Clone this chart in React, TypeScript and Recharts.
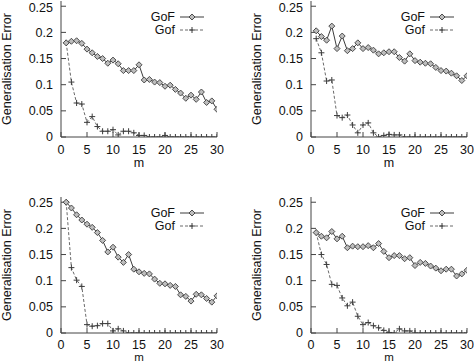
import React from 'react';
import { LineChart, Line, XAxis, YAxis, Legend } from 'recharts';

const mValues = [1, 2, 3, 4, 5, 6, 7, 8, 9, 10, 11, 12, 13, 14, 15, 16, 17, 18, 19, 20, 21, 22, 23, 24, 25, 26, 27, 28, 29, 30];

const xTicks = [0, 5, 10, 15, 20, 25, 30];
const yTicks = [0, 0.05, 0.1, 0.15, 0.2, 0.25];
const seriesNames = ['GoF', 'Gof'];
const xLabel = 'm';
const yLabel = 'Generalisation Error';

// top-left panel
const aGoF = [0.180, 0.183, 0.184, 0.179, 0.168, 0.161, 0.154, 0.150, 0.141, 0.147, 0.140, 0.127, 0.127, 0.127, 0.138, 0.109, 0.110, 0.105, 0.104, 0.097, 0.099, 0.091, 0.084, 0.074, 0.080, 0.072, 0.086, 0.066, 0.069, 0.053];
const aGof = [0.180, 0.105, 0.065, 0.063, 0.028, 0.039, 0.020, 0.011, 0.011, 0.014, 0.004, 0.011, 0.011, 0.008, 0.003, 0.003, 0, 0, 0, 0.003, 0, 0, 0, 0, 0, 0, 0, 0, 0, 0];
// top-right panel
const bGoF = [0.203, 0.192, 0.185, 0.212, 0.169, 0.193, 0.165, 0.169, 0.180, 0.169, 0.171, 0.166, 0.159, 0.161, 0.163, 0.163, 0.152, 0.145, 0.159, 0.146, 0.143, 0.141, 0.140, 0.133, 0.127, 0.126, 0.122, 0.117, 0.108, 0.117];
const bGof = [0.188, 0.161, 0.107, 0.109, 0.041, 0.037, 0.042, 0.023, 0.008, 0.023, 0.027, 0.008, 0, 0.003, 0.005, 0.004, 0.004, 0, 0, 0, 0, 0, 0, 0, 0, 0, 0, 0, 0, 0];
// bottom-left panel
const cGoF = [0.250, 0.239, 0.226, 0.216, 0.208, 0.202, 0.192, 0.177, 0.155, 0.164, 0.145, 0.135, 0.150, 0.122, 0.117, 0.114, 0.113, 0.103, 0.095, 0.094, 0.091, 0.089, 0.073, 0.070, 0.061, 0.074, 0.073, 0.066, 0.059, 0.071];
const cGof = [0.250, 0.125, 0.101, 0.089, 0.016, 0.013, 0.014, 0.018, 0.018, 0.004, 0.008, 0.004, 0, 0, 0, 0, 0, 0, 0, 0, 0, 0, 0, 0, 0, 0, 0, 0, 0, 0];
// bottom-right panel
const dGoF = [0.192, 0.185, 0.182, 0.194, 0.180, 0.185, 0.163, 0.166, 0.165, 0.165, 0.167, 0.163, 0.171, 0.156, 0.144, 0.148, 0.148, 0.142, 0.144, 0.129, 0.135, 0.133, 0.128, 0.124, 0.119, 0.122, 0.122, 0.109, 0.113, 0.120];
const dGof = [0.192, 0.150, 0.131, 0.093, 0.091, 0.067, 0.052, 0.059, 0.032, 0.016, 0.020, 0.014, 0.010, 0.005, 0.001, 0, 0.008, 0.004, 0.004, 0, 0, 0, 0, 0, 0, 0, 0, 0, 0, 0];

const FONT = '"Liberation Sans", Arial, Helvetica, sans-serif';
const FRAME = '#444';
const LINE1 = '#3c3c3c';
const LINE2 = '#6a6a6a';
const FS = 12.5;

const buildRows = (f: number[], g: number[]) =>
  mValues.map((m, i) => ({ m, GoF: f[i], Gof: g[i] }));

const diamondPath = (cx: number, cy: number, r: number) =>
  `M${cx},${cy - r}L${cx + r},${cy}L${cx},${cy + r}L${cx - r},${cy}Z`;

const DiamondDot = (props: any) => {
  const { cx, cy, index } = props;
  if (cx == null || cy == null) return <g key={`d${index}`} />;
  return <path key={`d${index}`} d={diamondPath(cx, cy, 3)} fill="#bdbdbd" stroke={LINE1} strokeWidth={0.9} />;
};

const PlusDot = (props: any) => {
  const { cx, cy, index } = props;
  if (cx == null || cy == null) return <g key={`p${index}`} />;
  return (
    <path key={`p${index}`} d={`M${cx - 3},${cy}H${cx + 3}M${cx},${cy - 3}V${cy + 3}`} stroke={LINE1} strokeWidth={1} fill="none" />
  );
};

type Panel = { left: number; top: number; width: number; height: number; pl: number; pt: number; pr: number; pb: number; mOff: number; mFs: number; tm: number; f: number[]; g: number[] };

const panels: Panel[] = [
  { left: 0, top: 0, width: 237, height: 180, pl: 61, pt: 1, pr: 217, pb: 137, mOff: 26, mFs: 12.5, tm: 13, f: aGoF, g: aGof },
  { left: 237, top: 0, width: 237, height: 180, pl: 311, pt: 1, pr: 467, pb: 137, mOff: 26, mFs: 12.5, tm: 13, f: bGoF, g: bGof },
  { left: 0, top: 180, width: 237, height: 183, pl: 61, pt: 197, pr: 217, pb: 333, mOff: 23.8, mFs: 11.5, tm: 12, f: cGoF, g: cGof },
  { left: 237, top: 180, width: 237, height: 183, pl: 311, pt: 197, pr: 467, pb: 333, mOff: 23.8, mFs: 11.5, tm: 12, f: dGoF, g: dGof },
];

const LegendBox = () => (
  <svg width={80} height={28} style={{ display: 'block', overflow: 'visible' }}>
    <text x={35} y={7} textAnchor="end" dominantBaseline="central" fontFamily={FONT} fontSize={FS} fill="#111">{seriesNames[0]}</text>
    <line x1={40} y1={7} x2={64} y2={7} stroke={LINE1} strokeWidth={1} />
    <path d={diamondPath(52, 7, 3)} fill="#bdbdbd" stroke={LINE1} strokeWidth={0.9} />
    <text x={35} y={20} textAnchor="end" dominantBaseline="central" fontFamily={FONT} fontSize={FS} fill="#111">{seriesNames[1]}</text>
    <line x1={40} y1={20} x2={64} y2={20} stroke={LINE2} strokeWidth={1} strokeDasharray="3 2" />
    <path d="M49,20H55M52,17V23" stroke={LINE1} strokeWidth={1} />
  </svg>
);

const PanelChart = ({ p }: { p: Panel }) => {
  const rows = buildRows(p.f, p.g);
  const marginTop = p.pt - p.top;
  const marginRight = p.left + p.width - p.pr;
  const yAxisW = p.pl - p.left;
  const xAxisH = p.top + p.height - p.pb;
  const midY = (p.pt + p.pb) / 2 - p.top;
  const midX = (p.pl + p.pr) / 2 - p.left;
  const tickStyle = { fill: '#111', fontSize: FS, fontFamily: FONT };
  return (
    <div style={{ position: 'absolute', left: p.left, top: p.top, width: p.width, height: p.height }}>
      <LineChart width={p.width} height={p.height} data={rows} margin={{ top: marginTop, right: marginRight, bottom: 0, left: 0 }}>
        <XAxis
          dataKey="m"
          type="number"
          domain={[0, 30]}
          ticks={xTicks}
          allowDataOverflow
          height={xAxisH}
          tickSize={-5}
          tickMargin={p.tm}
          stroke={FRAME}
          tick={tickStyle}
          axisLine={{ stroke: FRAME }}
          tickLine={{ stroke: FRAME }}
          label={{
            content: () => (
              <text x={midX} y={p.pb + p.mOff - p.top} textAnchor="middle" dominantBaseline="central" fontFamily={FONT} fontSize={p.mFs} fill="#111">{xLabel}</text>
            ),
          }}
        />
        <XAxis
          xAxisId="top"
          orientation="top"
          dataKey="m"
          type="number"
          domain={[0, 30]}
          ticks={xTicks}
          height={0}
          tickSize={-5}
          tick={false}
          axisLine={{ stroke: FRAME }}
          tickLine={{ stroke: FRAME }}
        />
        <YAxis
          type="number"
          domain={[0, 0.26]}
          ticks={yTicks}
          allowDataOverflow
          width={yAxisW}
          tickSize={-5}
          tickMargin={13}
          tick={tickStyle}
          tickFormatter={(v: number) => String(v)}
          axisLine={{ stroke: FRAME }}
          tickLine={{ stroke: FRAME }}
          label={{
            content: () => (
              <text
                x={p.pl - p.left - 54}
                y={midY}
                textAnchor="middle"
                dominantBaseline="central"
                transform={`rotate(-90 ${p.pl - p.left - 54} ${midY})`}
                fontFamily={FONT}
                fontSize={FS}
                fill="#111"
              >
                {yLabel}
              </text>
            ),
          }}
        />
        <YAxis
          yAxisId="right"
          orientation="right"
          type="number"
          domain={[0, 0.26]}
          ticks={yTicks}
          width={0}
          tickSize={-5}
          tick={false}
          axisLine={{ stroke: FRAME }}
          tickLine={{ stroke: FRAME }}
        />
        <Legend
          layout="vertical"
          align="center"
          verticalAlign="middle"
          wrapperStyle={{ position: 'absolute', left: p.pr - p.left - 77, top: marginTop + 8.5, width: 80, height: 28 }}
          content={() => <LegendBox />}
        />
        <Line
          dataKey="Gof"
          stroke={LINE2}
          strokeWidth={1}
          strokeDasharray="3 2"
          dot={PlusDot}
          activeDot={false}
          isAnimationActive={false}
        />
        <Line
          dataKey="GoF"
          stroke={LINE1}
          strokeWidth={1}
          dot={DiamondDot}
          activeDot={false}
          isAnimationActive={false}
        />
      </LineChart>
    </div>
  );
}

export default function App() {
  return (
    <div style={{ position: 'absolute', left: 0, top: 0, width: 474, height: 363, background: '#fff', overflow: 'hidden' }}>
      {panels.map((p, i) => (
        <PanelChart key={i} p={p} />
      ))}
    </div>
  );
}
